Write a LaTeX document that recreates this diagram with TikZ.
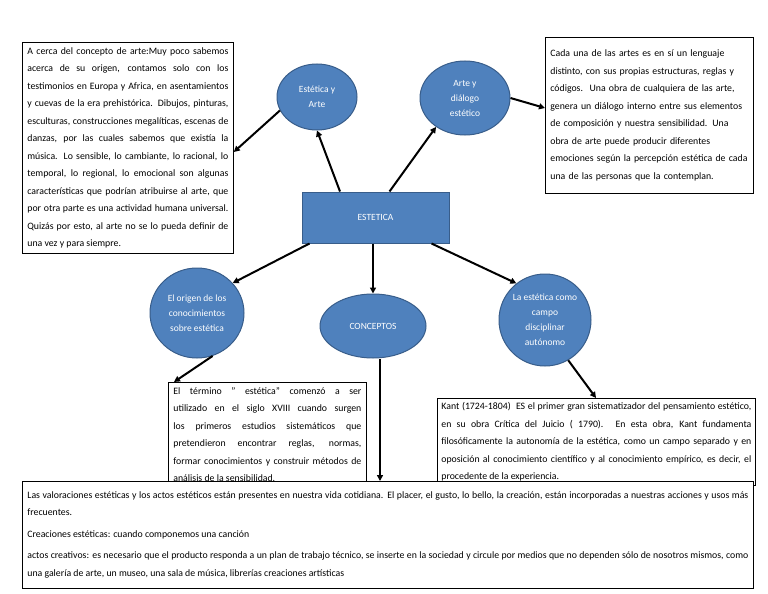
\documentclass[tikz,border=0pt]{standalone}
\usepackage{fontspec}
\setmainfont{Carlito}
\usetikzlibrary{shapes.geometric,arrows.meta}
\hyphenpenalty=10000
\exhyphenpenalty=10000
\definecolor{bfill}{HTML}{4F81BD}
\definecolor{bdraw}{HTML}{385D8A}
\tikzset{
 ell/.style={ellipse,fill=bfill,draw=bdraw,line width=1pt,text=white,align=center,font=\fontsize{9.5}{15}\selectfont,inner sep=0pt},
 tbox/.style={draw=black,line width=0.8pt,fill=white,align=justify,font=\fontsize{9.8}{17.5}\selectfont,inner sep=5pt,anchor=north west},
 arr/.style={-{Triangle[length=6pt,width=6pt]},line width=2pt},
}
\begin{document}
\begin{tikzpicture}[x=1pt,y=-1pt]
\useasboundingbox[fill=white] (0,0) rectangle (768,594);
\node[tbox,text width=201pt,minimum height=201pt] (L) at (22,42) {A cerca del concepto de arte:Muy poco sabemos acerca de su origen, contamos solo con los testimonios en Europa y Africa, en asentamientos y cuevas de la era prehistórica. Dibujos, pinturas, esculturas, construcciones megalíticas, escenas de danzas, por las cuales sabemos que existía la música. Lo sensible, lo cambiante, lo racional, lo temporal, lo regional, lo emocional son algunas características que podrían atribuirse al arte, que por otra parte es una actividad humana universal. Quizás por esto, al arte no se lo pueda definir de una vez y para siempre.};
\node[tbox,text width=198pt,minimum height=156pt,align=left] (R) at (545,37) {Cada una de las artes es en sí un lenguaje distinto, con sus propias estructuras, reglas y códigos.\ \ Una obra de cualquiera de las arte, genera un diálogo interno entre sus elementos de composición y nuestra sensibilidad. Una obra de arte puede producir diferentes emociones según la percepción estética de cada una de las personas que la contemplan.};
\node[ell,minimum width=80pt,minimum height=66pt] (EA) at (317,97) {Estética y\\Arte};
\node[ell,minimum width=90pt,minimum height=74pt] (AD) at (465,98) {Arte y\\diálogo\\estético};
\node[draw=bdraw,fill=bfill,line width=1pt,text=white,minimum width=147pt,minimum height=51pt,font=\fontsize{9.5}{11}\selectfont] (E) at (375.5,217.5) {ESTETICA};
\node[ell,minimum width=94pt,minimum height=90pt] (O) at (197,313) {El origen de los\\conocimientos\\sobre estética};
\node[ell,minimum width=106pt,minimum height=64pt] (C) at (373,326) {CONCEPTOS};
\node[ell,minimum width=92pt,minimum height=92pt] (D) at (545,320) {La estética como\\campo\\disciplinar\\autónomo};
\node[tbox,text width=188pt,minimum height=88pt] (T) at (168,382) {El término " estética" comenzó a ser utilizado en el siglo XVIII cuando surgen los primeros estudios sistemáticos que pretendieron encontrar reglas, normas, formar conocimientos y construir métodos de análisis de la sensibilidad.};
\node[tbox,text width=310pt,minimum height=78pt,inner sep=4pt] (K) at (437,398) {Kant (1724-1804)\ \ ES el primer gran sistematizador del pensamiento estético, en su obra Crítica del Juicio ( 1790). En esta obra, Kant fundamenta filosóficamente la autonomía de la estética, como un campo separado y en oposición al conocimiento científico y al conocimiento empírico, es decir, el procedente de la experiencia.};
\node[tbox,text width=721pt,minimum height=107pt,inner sep=5pt] (B) at (22,481) {Las valoraciones estéticas y los actos estéticos están presentes en nuestra vida cotidiana. El placer, el gusto, lo bello, la creación, están incorporadas a nuestras acciones y usos más frecuentes.\par\vspace{4pt}
Creaciones estéticas: cuando componemos una canción\par\vspace{4pt}
actos creativos: es necesario que el producto responda a un plan de trabajo técnico, se inserte en la sociedad y circule por medios que no dependen sólo de nosotros mismos, como una galería de arte, un museo, una sala de música, librerías creaciones artísticas};
\draw[arr] (E.north west -| 340,0) -- (EA.south);
\draw[arr] ([xshift=14pt]E.north) -- (AD.225);
\draw[arr] (EA.200) -- (L.east |- 0,152);
\draw[arr] (AD.east) -- (R.west |- 0,108);
\draw[arr] ([xshift=8pt]E.south west) -- (O.40);
\draw[arr] (E.south -| C.north) -- (C.north);
\draw[arr] ([xshift=-18pt]E.south east) -- (D.128);
\draw[arr] (O.290) -- ([xshift=6pt]T.north west);
\draw[arr] ([xshift=7pt]C.south) -- (B.north -| 380,0);
\draw[arr] (D.300) -- (K.north -| 596,0);
\end{tikzpicture}
\end{document}
